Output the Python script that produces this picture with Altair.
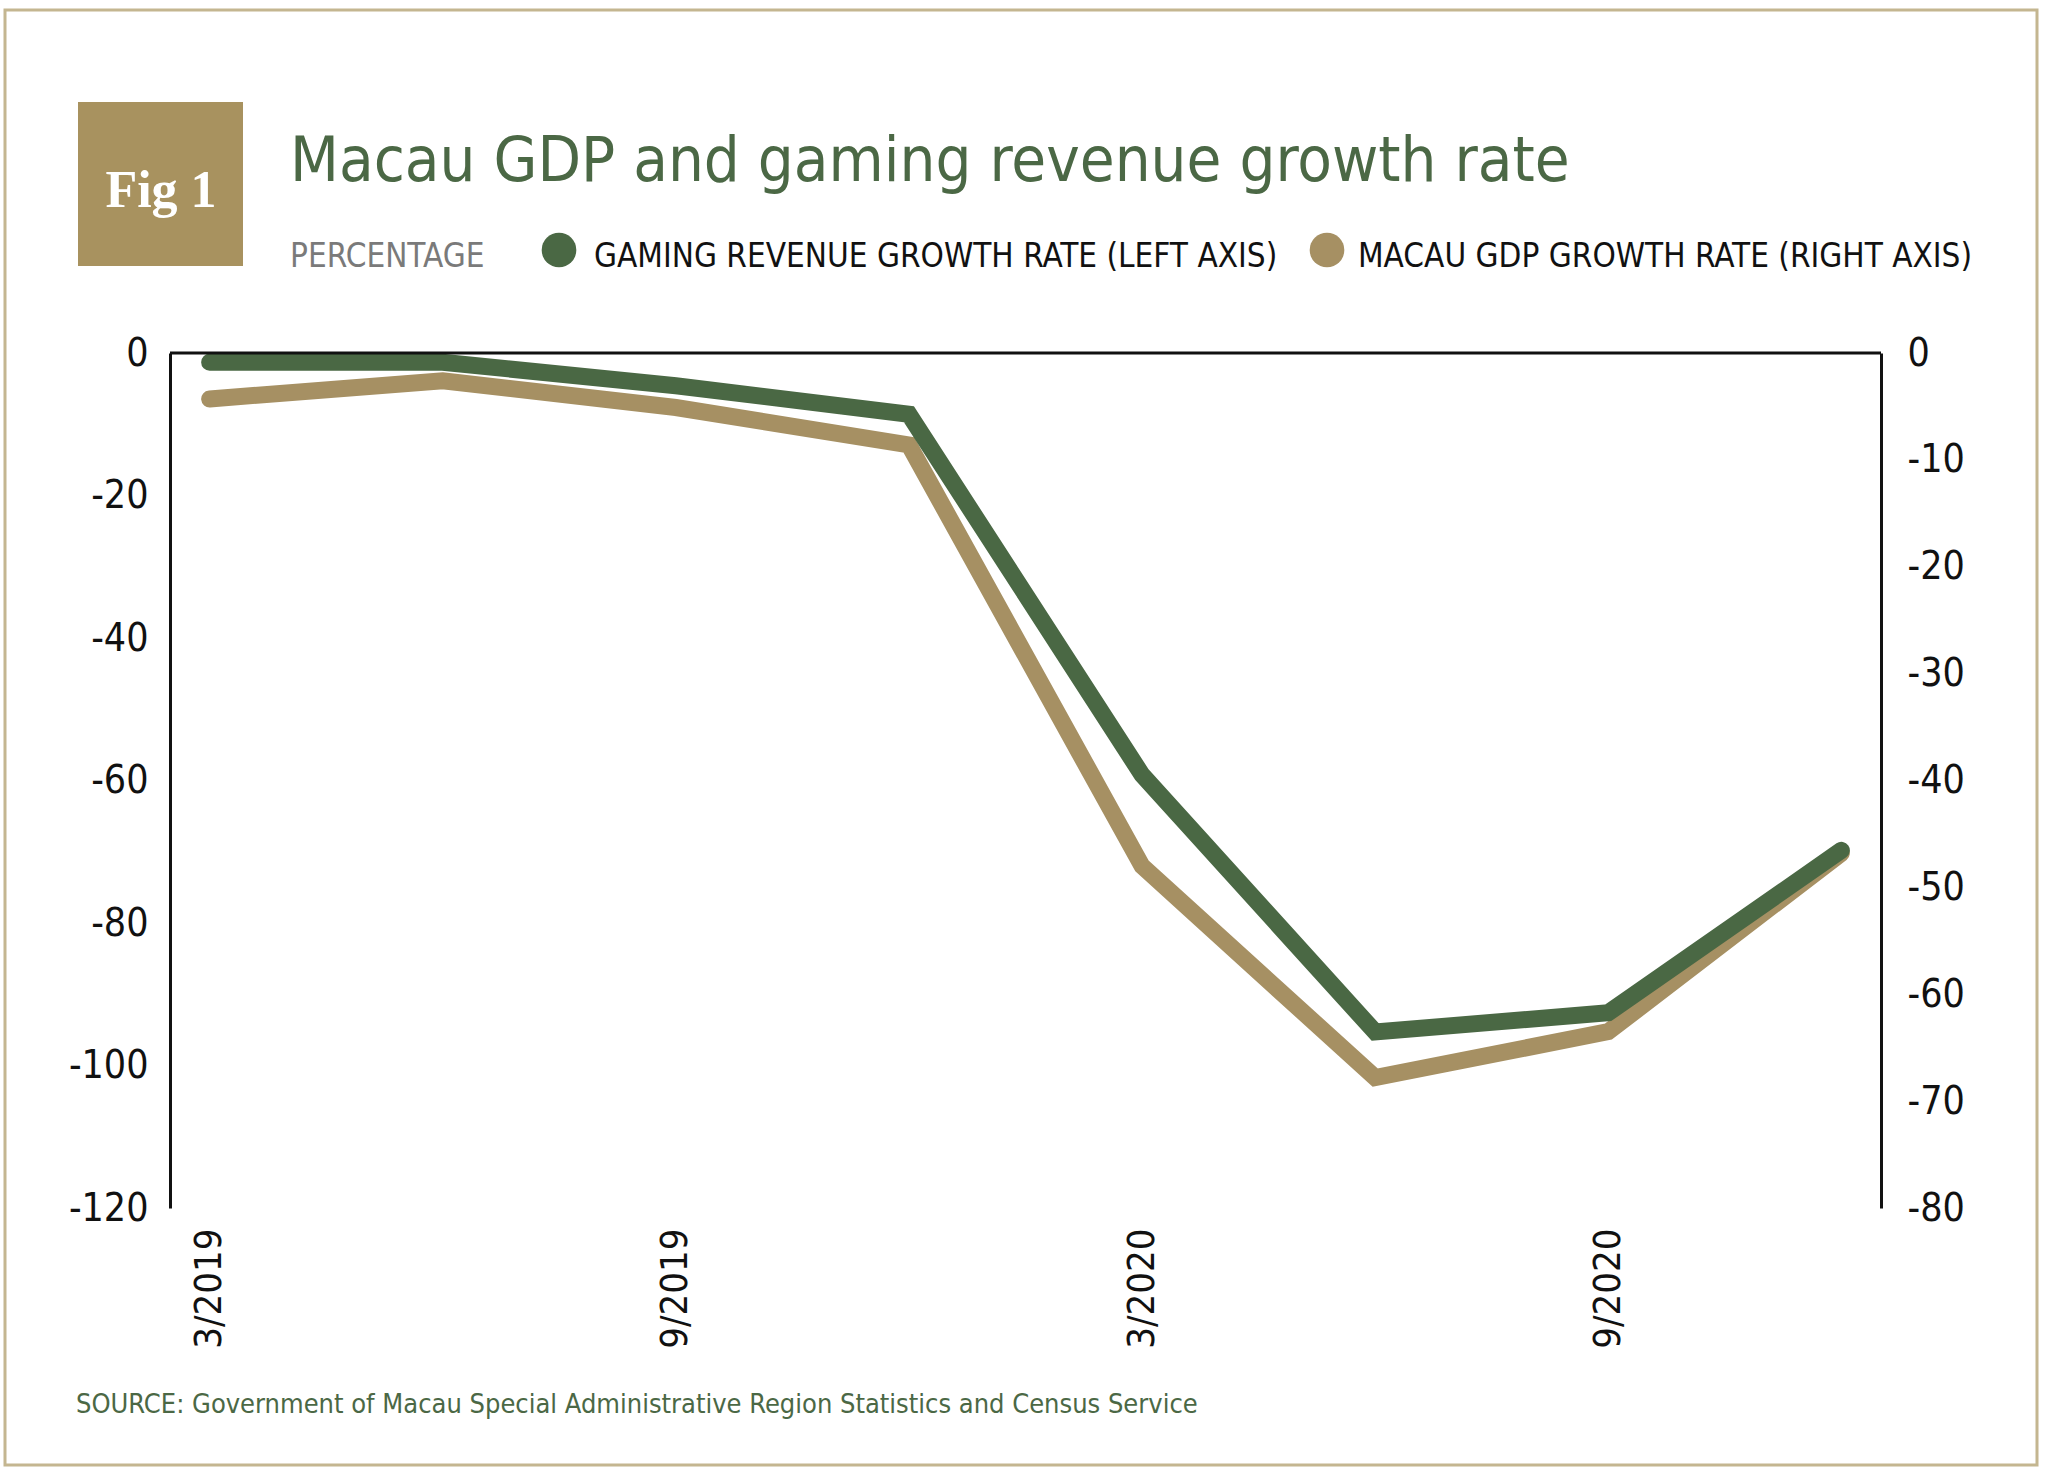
import altair as alt
import pandas as pd

# Quarterly year-on-year growth rates, %
quarters = ["3/2019", "6/2019", "9/2019", "12/2019", "3/2020", "6/2020", "9/2020", "12/2020"]
gaming_growth = [-1.3, -1.3, -4.6, -8.6, -59.2, -95.3, -92.6, -69.8]
gdp_growth = [-4.3, -2.6, -5.1, -8.6, -48.0, -67.8, -63.5, -46.8]

left_ticks = [0, -20, -40, -60, -80, -100, -120]
right_ticks = [0, -10, -20, -30, -40, -50, -60, -70, -80]
shown_quarters = ["3/2019", "9/2019", "3/2020", "9/2020"]

GREEN = "#4A6844"
GOLD = "#A69063"
FONT = "DejaVu Sans Condensed, DejaVu Sans, sans-serif"

W, H = 1711, 855

df = pd.DataFrame({"quarter": quarters, "gaming": gaming_growth, "gdp": gdp_growth})
one = pd.DataFrame({"k": [0]})

x_enc = alt.X(
    "quarter:O",
    sort=quarters,
    scale=alt.Scale(type="point", padding=0.17),
    axis=alt.Axis(
        values=shown_quarters, title=None, domain=False, ticks=False,
        labelAngle=270, labelPadding=20, labelFont=FONT, labelFontSize=38,
        labelColor="#111111",
    ),
)

gdp_line = alt.Chart(df).mark_line(
    color=GOLD, strokeWidth=17, strokeCap="round", strokeJoin="miter"
).encode(
    x=x_enc,
    y=alt.Y(
        "gdp:Q",
        scale=alt.Scale(domain=[-80, 0], nice=False, zero=False),
        axis=alt.Axis(
            orient="right", values=right_ticks, title=None, grid=False, ticks=False,
            domainColor="#111111", domainWidth=3, labelPadding=26,
            labelFont=FONT, labelFontSize=39, labelColor="#111111",
            labelExpr="datum.value + ''",
        ),
    ),
)

gaming_line = alt.Chart(df).mark_line(
    color=GREEN, strokeWidth=17, strokeCap="round", strokeJoin="miter"
).encode(
    x=x_enc,
    y=alt.Y(
        "gaming:Q",
        scale=alt.Scale(domain=[-120, 0], nice=False, zero=False),
        axis=alt.Axis(
            orient="left", values=left_ticks, title=None, grid=False, ticks=False,
            domainColor="#111111", domainWidth=3, labelPadding=22,
            labelFont=FONT, labelFontSize=39, labelColor="#111111",
            labelExpr="datum.value + ''",
        ),
    ),
)

base = alt.Chart(one)

# horizontal line along the zero level
top_rule = base.mark_rule(color="#111111", strokeWidth=3).encode(
    x=alt.value(0), x2=alt.value(W), y=alt.value(0)
)

# outer frame
frame = base.mark_rect(filled=False, stroke="#C4B690", strokeWidth=3).encode(
    x=alt.value(-165), x2=alt.value(1867), y=alt.value(-343), y2=alt.value(1112)
)

# "Fig 1" badge
badge = base.mark_rect(color="#A8925F").encode(
    x=alt.value(-92), x2=alt.value(73), y=alt.value(-251), y2=alt.value(-87)
)
badge_text = base.mark_text(
    text="Fig 1", font="Liberation Serif", fontWeight="bold", fontSize=52,
    color="white", align="center", baseline="alphabetic",
).encode(x=alt.value(-9), y=alt.value(-146))

title = base.mark_text(
    text="Macau GDP and gaming revenue growth rate", font=FONT, fontSize=63,
    color="#4B6845", align="left", baseline="alphabetic",
).encode(x=alt.value(120), y=alt.value(-172))

unit = base.mark_text(
    text="PERCENTAGE", font=FONT, fontSize=33, color="#7A7A7A",
    align="left", baseline="alphabetic",
).encode(x=alt.value(120), y=alt.value(-86))

dot_gaming = base.mark_circle(size=1200, color=GREEN, opacity=1).encode(
    x=alt.value(389), y=alt.value(-103)
)
key_gaming = base.mark_text(
    text="GAMING REVENUE GROWTH RATE (LEFT AXIS)", font=FONT, fontSize=33,
    color="#111111", align="left", baseline="alphabetic",
).encode(x=alt.value(424), y=alt.value(-86))

dot_gdp = base.mark_circle(size=1200, color=GOLD, opacity=1).encode(
    x=alt.value(1157), y=alt.value(-103)
)
key_gdp = base.mark_text(
    text="MACAU GDP GROWTH RATE (RIGHT AXIS)", font=FONT, fontSize=33,
    color="#111111", align="left", baseline="alphabetic",
).encode(x=alt.value(1188), y=alt.value(-86))

source = base.mark_text(
    text="SOURCE: Government of Macau Special Administrative Region Statistics and Census Service",
    font=FONT, fontSize=27, color="#4B6845", align="left", baseline="alphabetic",
).encode(x=alt.value(-94), y=alt.value(1060))

chart = alt.layer(
    frame, gdp_line, gaming_line, top_rule, badge, badge_text, title, unit,
    dot_gaming, key_gaming, dot_gdp, key_gdp, source,
).resolve_scale(y="independent").properties(
    width=W, height=H,
    autosize=alt.AutoSizeParams(type="none"),
    padding={"left": 170, "top": 353, "right": 167, "bottom": 266},
    background="white",
).configure_view(stroke=None)

chart.save("out.html", embed_options={"renderer": "svg", "actions": False})
